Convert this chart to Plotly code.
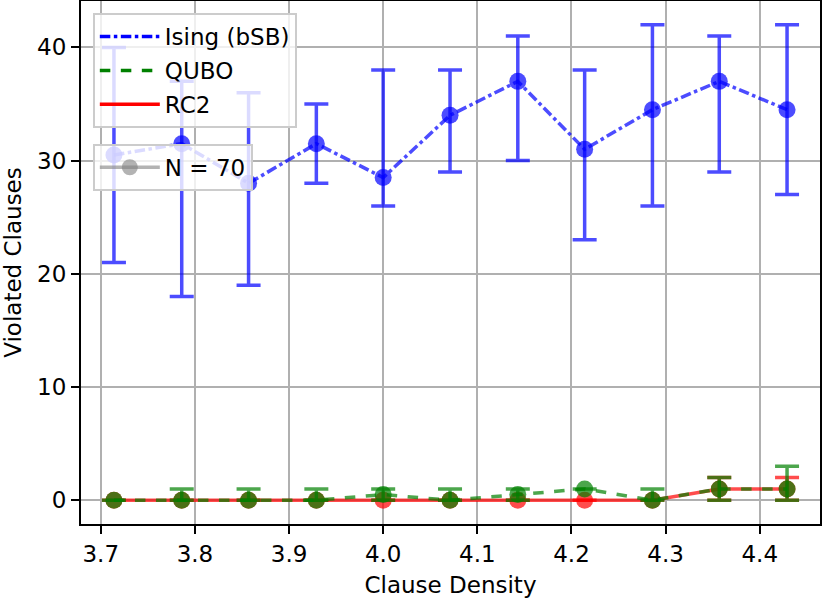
import plotly.graph_objects as go

# clause density = clauses / N, N = 70
density = [3.714, 3.786, 3.857, 3.929, 4.0, 4.071, 4.143, 4.214, 4.286, 4.357, 4.429]

ising_mid = [30.5, 31.5, 28, 31.5, 28.5, 34, 37, 31, 34.5, 37, 34.5]
ising_hi = [40, 37, 36, 35, 38, 38, 41, 38, 42, 41, 42]
ising_lo = [21, 18, 19, 28, 26, 29, 30, 23, 26, 29, 27]

qubo_mid = [0, 0, 0, 0, 0.5, 0, 0.5, 1, 0, 1, 1]
qubo_hi = [0, 1, 1, 1, 1, 1, 1, 1, 1, 2, 3]
qubo_lo = [0, 0, 0, 0, 0, 0, 0, 1, 0, 0, 0]

rc2_mid = [0, 0, 0, 0, 0, 0, 0, 0, 0, 1, 1]
rc2_hi = [0, 0, 0, 0, 0, 0, 0, 0, 0, 2, 2]
rc2_lo = [0, 0, 0, 0, 0, 0, 0, 0, 0, 0, 0]

x_ticks = [3.7, 3.8, 3.9, 4.0, 4.1, 4.2, 4.3, 4.4]
y_ticks = [0, 10, 20, 30, 40]

FONT = "DejaVu Sans"

series = {
    "Ising (bSB)": (ising_mid, ising_hi, ising_lo, (0, 0, 255), "dashdot"),
    "QUBO": (qubo_mid, qubo_hi, qubo_lo, (0, 128, 0), "dash"),
    "RC2": (rc2_mid, rc2_hi, rc2_lo, (255, 0, 0), "solid"),
}

fig = go.Figure()

# QUBO goes on top of RC2 (overlaps look olive in the original)
for name in ["Ising (bSB)", "RC2", "QUBO"]:
    mid, hi, lo, rgb, dash = series[name]
    c = "rgba(%d,%d,%d,0.7)" % rgb
    fig.add_trace(go.Scatter(
        x=density, y=mid, mode="lines+markers", showlegend=False,
        line=dict(color=c, width=3.5, dash=dash),
        marker=dict(color=c, size=17),
        error_y=dict(type="data", symmetric=False,
                     array=[h - m for h, m in zip(hi, mid)],
                     arrayminus=[m - l for m, l in zip(mid, lo)],
                     color=c, thickness=3.5, width=12),
    ))

# legend entries (lines only, like the matplotlib handles)
for name in ["Ising (bSB)", "QUBO", "RC2"]:
    mid, hi, lo, rgb, dash = series[name]
    fig.add_trace(go.Scatter(
        x=[None], y=[None], mode="lines", name=name, legendgroup=name,
        line=dict(color="rgb(%d,%d,%d)" % rgb, width=3.5, dash=dash),
    ))

fig.add_trace(go.Scatter(
    x=[None], y=[None], mode="lines+markers", name="N = 70", legend="legend2",
    line=dict(color="rgba(128,128,128,0.6)", width=3.5),
    marker=dict(color="rgba(128,128,128,0.6)", size=17),
))

axis_style = dict(
    showgrid=True, gridcolor="#b0b0b0", gridwidth=1.8,
    showline=True, linecolor="black", linewidth=2.2, mirror=True,
    ticks="outside", ticklen=8, tickwidth=2, tickcolor="black",
    zeroline=False, tickfont=dict(family=FONT, size=23, color="black"),
    automargin=False,
)

fig.update_layout(
    width=825, height=598,
    margin=dict(l=81, r=5, t=1, b=74),
    plot_bgcolor="white", paper_bgcolor="white",
    font=dict(family=FONT, size=23, color="black"),
    xaxis=dict(axis_style, range=[3.679, 4.464], tickvals=x_ticks,
               ticktext=["%.1f" % v for v in x_ticks],
               title=dict(text="Clause Density", font=dict(size=23), standoff=11)),
    yaxis=dict(axis_style, range=[-2.1, 44.1], tickvals=y_ticks,
               title=dict(text="Violated Clauses", font=dict(size=23), standoff=12)),
    legend=dict(x=0.016, y=0.977, xanchor="left", yanchor="top",
                bgcolor="rgba(255,255,255,0.8)", bordercolor="#cccccc",
                borderwidth=2, font=dict(size=23), tracegroupgap=1,
                itemwidth=60),
    legend2=dict(x=0.016, y=0.727, xanchor="left", yanchor="top",
                 bgcolor="rgba(255,255,255,0.8)", bordercolor="#cccccc",
                 borderwidth=2, font=dict(size=23), itemwidth=60),
)

fig.write_html("out.html", config={"displayModeBar": False},
               post_script="document.body.style.margin='0';")
